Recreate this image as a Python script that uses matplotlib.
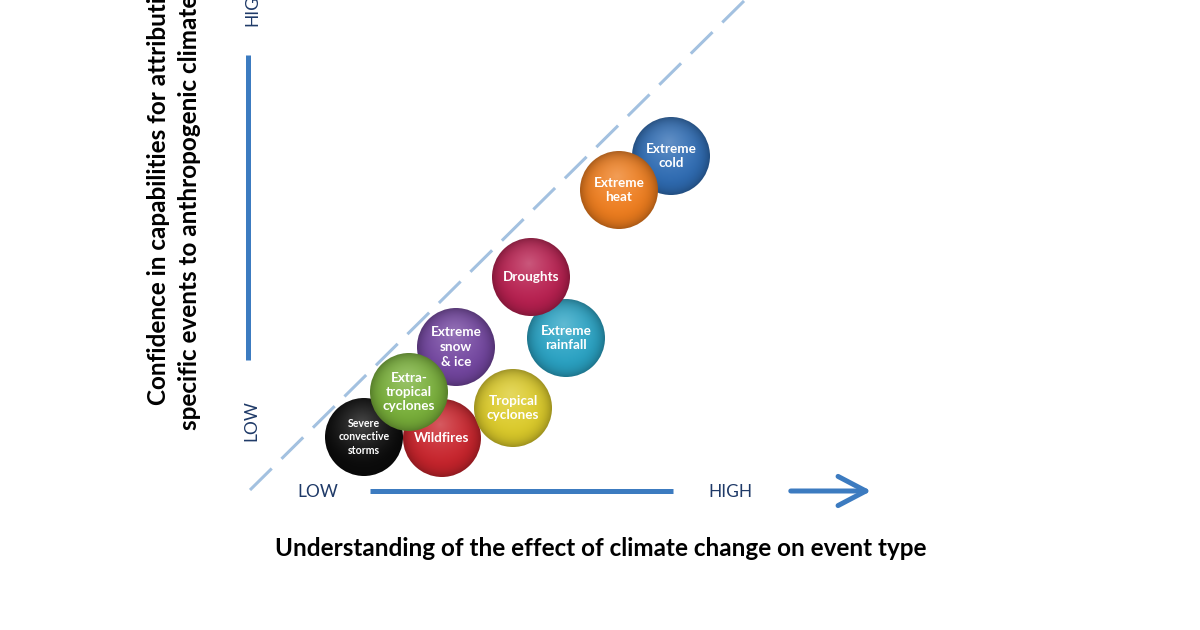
import numpy as np
import matplotlib
matplotlib.use("Agg")
import matplotlib.pyplot as plt
from matplotlib.patches import Circle
import matplotlib.colors as mcolors

plt.rcParams['font.family'] = ['Lato', 'DejaVu Sans']

# ---- data (positions in the chart's pixel-like coordinate space) ----
event_labels = ["Severe\nconvective\nstorms", "Wildfires", "Extreme\nsnow\n& ice",
                "Extra-\ntropical\ncyclones", "Tropical\ncyclones", "Extreme\nrainfall",
                "Droughts", "Extreme\ncold", "Extreme\nheat"]
understanding = [364, 442, 456, 409, 513, 566, 531, 671, 619]
confidence = [437, 438, 347, 392, 408, 338, 277, 156, 190]
event_colors = ["#0c0c0c", "#c8242c", "#7346a0", "#79b03a", "#dccb2a", "#2aa3c4",
                "#b82050", "#2f6cb3", "#ee7d1e"]
label_sizes = [7.6, 9.7, 9.7, 9.7, 9.7, 9.7, 9.7, 9.7, 9.7]
radius = 39

x_axis_labels = ["LOW", "HIGH"]
y_axis_labels = ["LOW", "HIGH"]
x_title = "Understanding of the effect of climate change on event type"
y_title = ["Confidence in capabilities for attributing",
           "specific events to anthropogenic climate change"]

W, H = 1200, 630
fig = plt.figure(figsize=(W / 100, H / 100), dpi=100)
ax = fig.add_axes([0, 0, 1, 1])
ax.set_xlim(0, W)
ax.set_ylim(H, 0)
ax.axis('off')

AXIS_BLUE = "#3c7bc0"
TEXT_BLUE = "#1f3a68"

# dashed diagonal
ax.plot([250, 748], [490, -3], color="#a3c1e0", lw=2.2, dashes=(10, 4.5), zorder=1)

# y-axis line and labels
ax.plot([248, 248], [55, 360], color=AXIS_BLUE, lw=3.6, solid_capstyle='butt', zorder=1)
ax.text(251, 441, y_axis_labels[0], rotation=90, ha='center', va='bottom',
        color=TEXT_BLUE, fontsize=12.5)
ax.text(252, 26, y_axis_labels[1], rotation=90, ha='center', va='bottom',
        color=TEXT_BLUE, fontsize=12.5)

# x-axis line, labels and arrow
ax.plot([370, 673], [491, 491], color=AXIS_BLUE, lw=3.6, solid_capstyle='butt', zorder=1)
ax.text(318, 492, x_axis_labels[0], ha='center', va='center', color=TEXT_BLUE, fontsize=12.5)
ax.text(730, 492, x_axis_labels[1], ha='center', va='center', color=TEXT_BLUE, fontsize=12.5)
ax.annotate("", xy=(874, 491), xytext=(788, 491),
            arrowprops=dict(arrowstyle="->,head_length=2.0,head_width=1.05",
                            color=AXIS_BLUE, lw=3.6, capstyle='round'))

# titles
ax.text(601, 549, x_title, ha='center', va='center', fontsize=17.5, fontweight='bold', color='black')
ax.text(158, 405, y_title[0], rotation=90, ha='center', va='bottom',
        fontsize=17.5, fontweight='bold', color='black')
ax.text(190, 430, y_title[1], rotation=90, ha='center', va='bottom',
        fontsize=17.5, fontweight='bold', color='black')

# spheres
n = 120
u = np.linspace(-1, 1, n)
U, V = np.meshgrid(u, u)
R2 = U ** 2 + V ** 2
hl = np.sqrt((U + 0.05) ** 2 + (V + 0.35) ** 2)

for i, (cx, cy, col, lab, fs) in enumerate(zip(understanding, confidence, event_colors,
                                                event_labels, label_sizes)):
    base = np.array(mcolors.to_rgb(col))
    light = np.clip(1 - hl / 1.1, 0, 1) ** 1.5 * 0.25
    dark = np.clip(R2, 0, 1) ** 2.5 * 0.28
    img = base[None, None, :] * (1 - light[..., None]) + light[..., None]
    img = img * (1 - dark[..., None])
    rgba = np.dstack([np.clip(img, 0, 1), np.ones((n, n))])
    z = 2 + i
    circ = Circle((cx, cy), radius, facecolor='none', edgecolor='none', zorder=z)
    ax.add_patch(circ)
    im = ax.imshow(rgba, extent=(cx - radius, cx + radius, cy + radius, cy - radius),
                   origin='upper', zorder=z, interpolation='bilinear')
    im.set_clip_path(circ)
    ax.text(cx, cy, lab, ha='center', va='center', color='white', fontsize=fs,
            fontweight='bold', linespacing=1.25, zorder=z + 0.5)

ax.set_xlim(0, W)
ax.set_ylim(H, 0)
fig.savefig("out.png", dpi=100, facecolor='white')
